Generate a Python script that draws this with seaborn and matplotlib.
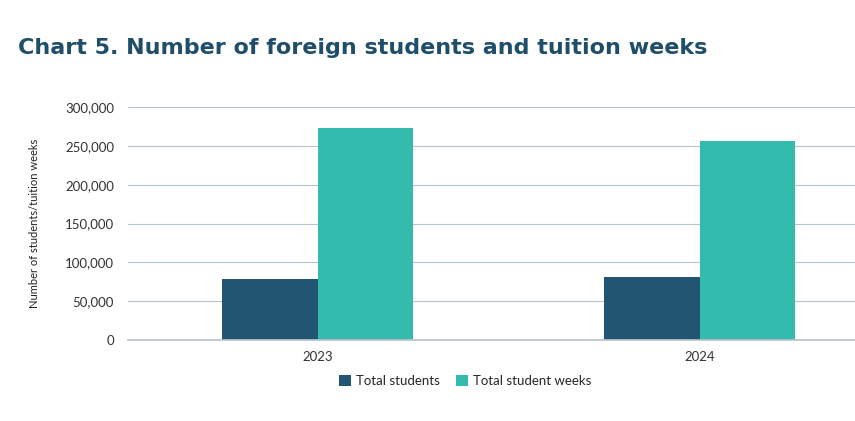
import matplotlib
matplotlib.use("Agg")
import matplotlib.pyplot as plt
import seaborn as sns
import pandas as pd

years = ["2023", "2024"]
series = ["Total students", "Total student weeks"]
students = [78500, 81000]
weeks = [273500, 256500]
yticks = [0, 50000, 100000, 150000, 200000, 250000, 300000]

df = pd.DataFrame({
    "year": years * 2,
    "series": [series[0]] * 2 + [series[1]] * 2,
    "value": students + weeks,
})

sns.set_theme(style="white")
plt.rcParams['font.family'] = ['Lato', 'DejaVu Sans']
fig = plt.figure(figsize=(8.55, 4.21), dpi=100)
ax = fig.add_axes([128/855, 1-340/421, 727/855, 233/421])
sns.barplot(data=df, x="year", y="value", hue="series", palette=["#215571", "#33BBAD"],
            width=0.5, ax=ax, saturation=1, legend=True, linewidth=0)
ax.set_ylim(0, 300000)
ax.set_xlim(-0.497, 1.406)
ax.set_yticks(yticks)
ax.set_yticklabels([f"{v:,}" for v in yticks], fontsize=9.5, color="#333333")
ax.tick_params(axis="x", labelsize=9.5, colors="#333333", length=0, pad=8)
ax.tick_params(axis="y", length=0, pad=10)
ax.yaxis.grid(True, color="#b8c4cc", linewidth=0.8)
ax.set_axisbelow(True)
for s in ["top", "right", "left"]:
    ax.spines[s].set_visible(False)
ax.spines["bottom"].set_color("#b8c4cc")
ax.set_xlabel("")
ax.set_ylabel("Number of students/tuition weeks", fontsize=8, color="#222222", labelpad=18)
leg = ax.legend(loc="upper center", bbox_to_anchor=(337/727, -0.1), ncol=2, frameon=False,
                fontsize=9.5, handlelength=0.9, handleheight=0.9, columnspacing=1.2, handletextpad=0.4)
fig.text(18/855, 1-48/421, "Chart 5. Number of foreign students and tuition weeks",
         fontsize=16, fontweight="bold", color="#1f4e6b", va="center", family=["DejaVu Sans"])
fig.savefig("out.png", dpi=100)
